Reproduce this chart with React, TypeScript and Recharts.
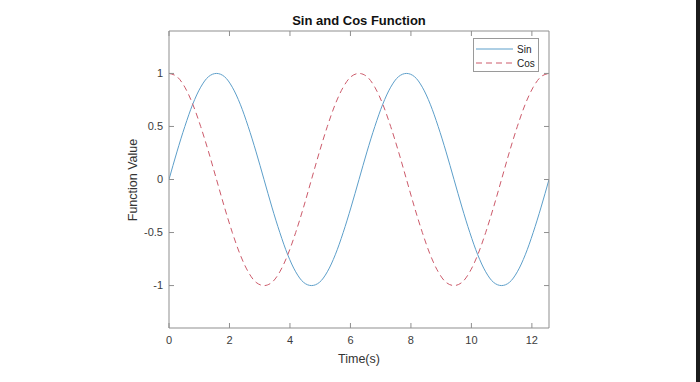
import React from 'react'
import { LineChart, Line, XAxis, YAxis, Legend } from 'recharts'

// time samples (s), read along the x axis
const time = [
  0, 0.262, 0.524, 0.785, 1.047, 1.309, 1.571, 1.833, 2.094, 2.356, 2.618, 2.88, 3.142,
  3.403, 3.665, 3.927, 4.189, 4.451, 4.712, 4.974, 5.236, 5.498, 5.76, 6.021, 6.283,
  6.545, 6.807, 7.069, 7.33, 7.592, 7.854, 8.116, 8.378, 8.639, 8.901, 9.163, 9.425,
  9.687, 9.948, 10.21, 10.472, 10.734, 10.996, 11.257, 11.519, 11.781, 12.043, 12.305, 12.566,
]

const sinValues = [
  0, 0.26, 0.5, 0.71, 0.87, 0.97, 1, 0.97, 0.87, 0.71, 0.5, 0.26, 0,
  -0.26, -0.5, -0.71, -0.87, -0.97, -1, -0.97, -0.87, -0.71, -0.5, -0.26, 0,
  0.26, 0.5, 0.71, 0.87, 0.97, 1, 0.97, 0.87, 0.71, 0.5, 0.26, 0,
  -0.26, -0.5, -0.71, -0.87, -0.97, -1, -0.97, -0.87, -0.71, -0.5, -0.26, 0,
]

const cosValues = [
  1, 0.97, 0.87, 0.71, 0.5, 0.26, 0, -0.26, -0.5, -0.71, -0.87, -0.97, -1,
  -0.97, -0.87, -0.71, -0.5, -0.26, 0, 0.26, 0.5, 0.71, 0.87, 0.97, 1,
  0.97, 0.87, 0.71, 0.5, 0.26, 0, -0.26, -0.5, -0.71, -0.87, -0.97, -1,
  -0.97, -0.87, -0.71, -0.5, -0.26, 0, 0.26, 0.5, 0.71, 0.87, 0.97, 1,
]

const seriesNames = ['Sin', 'Cos']
const xTicks = [0, 2, 4, 6, 8, 10, 12]
const yTicks = [-1, -0.5, 0, 0.5, 1]

const data = time.map((t, i) => ({ t, sin: sinValues[i], cos: cosValues[i] }))

const FONT = '"Liberation Sans", Arial, Helvetica, sans-serif'
const AXIS = '#8f8f8f'
const tickStyle = { fontSize: 11, fill: '#3c3c3c', fontFamily: FONT }

function LegendBox({ payload }: any) {
  const items = (payload || [])
    .filter((p: any) => seriesNames.includes(p.value))
    .sort((a: any, b: any) => seriesNames.indexOf(a.value) - seriesNames.indexOf(b.value))
  return (
    <svg width={66} height={34} style={{ display: 'block' }}>
      <rect x={0.5} y={0.5} width={65} height={33} fill="#fff" stroke="#9a9a9a" />
      {items.map((p: any, i: number) => {
        const y = 11 + i * 14
        return (
          <g key={p.value}>
            <line
              x1={3}
              x2={40}
              y1={y}
              y2={y}
              stroke={p.color}
              strokeDasharray={p.payload?.strokeDasharray}
            />
            <text x={44} y={y + 3.5} fontSize={10} fill="#222" fontFamily={FONT}>
              {p.value}
            </text>
          </g>
        )
      })}
    </svg>
  )
}

export default function App() {
  return (
    <div
      style={{
        position: 'fixed',
        left: 0,
        top: 0,
        width: 700,
        height: 382,
        background: '#fff',
        fontFamily: FONT,
      }}
    >
      <div
        style={{
          position: 'absolute',
          left: 169,
          width: 380,
          top: 13,
          lineHeight: '16px',
          textAlign: 'center',
          fontSize: 13,
          fontWeight: 'bold',
          color: '#111',
        }}
      >
        Sin and Cos Function
      </div>
      <div
        style={{
          position: 'absolute',
          left: 73,
          top: 172,
          width: 120,
          height: 16,
          lineHeight: '16px',
          textAlign: 'center',
          fontSize: 12.5,
          color: '#333',
          transform: 'rotate(-90deg)',
        }}
      >
        Function Value
      </div>
      <div
        style={{
          position: 'absolute',
          left: 169,
          width: 380,
          top: 351,
          lineHeight: '16px',
          textAlign: 'center',
          fontSize: 12.5,
          color: '#333',
        }}
      >
        Time(s)
      </div>
      <LineChart
        width={700}
        height={382}
        data={data}
        margin={{ top: 30, right: 150, bottom: 14, left: 129 }}
        style={{ position: 'absolute', left: 0, top: 0 }}
      >
        <XAxis
          xAxisId="bottom"
          dataKey="t"
          type="number"
          domain={[0, 12.566]}
          allowDataOverflow
          ticks={xTicks}
          height={40}
          stroke={AXIS}
          tickSize={-5}
          tickMargin={13}
          tick={tickStyle}
          interval={0}
        />
        <XAxis
          xAxisId="top"
          dataKey="t"
          orientation="top"
          type="number"
          domain={[0, 12.566]}
          allowDataOverflow
          ticks={xTicks}
          height={1}
          stroke={AXIS}
          tickSize={-5}
          tickFormatter={() => ''}
          interval={0}
        />
        <YAxis
          yAxisId="left"
          type="number"
          domain={[-1.4, 1.4]}
          allowDataOverflow
          ticks={yTicks}
          width={40}
          stroke={AXIS}
          tickSize={-5}
          tickMargin={11}
          tick={tickStyle}
          interval={0}
        />
        <YAxis
          yAxisId="right"
          orientation="right"
          type="number"
          domain={[-1.4, 1.4]}
          allowDataOverflow
          ticks={yTicks}
          width={1}
          stroke={AXIS}
          tickSize={-5}
          tickFormatter={() => ''}
          interval={0}
        />
        <Legend
          layout="horizontal"
          verticalAlign="middle"
          align="center"
          content={<LegendBox />}
          wrapperStyle={{ position: 'absolute', left: 473, top: 38, width: 66, height: 34 }}
        />
        <Line
          xAxisId="bottom"
          yAxisId="left"
          type="monotone"
          dataKey="sin"
          name="Sin"
          stroke="#5d9fca"
          strokeWidth={1}
          dot={false}
          isAnimationActive={false}
        />
        <Line
          xAxisId="bottom"
          yAxisId="left"
          type="monotone"
          dataKey="cos"
          name="Cos"
          stroke="#cc5a6a"
          strokeWidth={1}
          strokeDasharray="6 4"
          dot={false}
          isAnimationActive={false}
        />
      </LineChart>
      <div
        style={{ position: 'absolute', left: 696, top: 0, width: 4, height: 382, background: '#1c1c1c' }}
      />
    </div>
  )
}
